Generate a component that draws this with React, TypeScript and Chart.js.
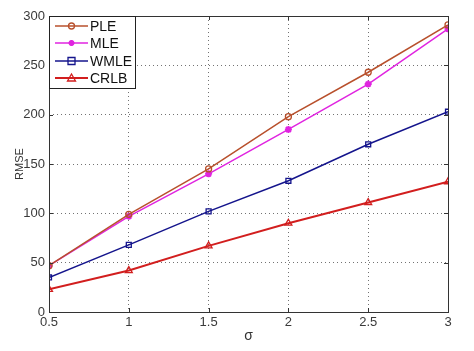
import React, { useEffect, useRef } from 'react';
import { Chart, registerables } from 'chart.js';
Chart.register(...registerables);

const sigma = [0.5, 1, 1.5, 2, 2.5, 3];
const ple = [47, 99, 145, 198, 243, 291];
const mle = [47, 97, 140, 185, 231, 287];
const wmle = [35, 68, 102, 133, 170, 203];
const crlb = [23, 42, 67, 90, 111, 132];
const seriesNames = ['PLE', 'MLE', 'WMLE', 'CRLB'];
const seriesColors = ['#b8502c', '#e024e0', '#14148c', '#d21e1e'];
const seriesStyles = ['circle', 'star', 'rect', 'triangle'];
const xTicks = [0.5, 1, 1.5, 2, 2.5, 3];
const yTicks = [0, 50, 100, 150, 200, 250, 300];

const FONT = '"Liberation Sans", Arial, sans-serif';

function drawMarker(ctx: CanvasRenderingContext2D, style: string, x: number, y: number, color: string) {
  ctx.save();
  ctx.strokeStyle = color;
  ctx.fillStyle = color;
  ctx.lineWidth = 1.3;
  ctx.beginPath();
  if (style === 'circle') {
    ctx.arc(x, y, 3, 0, Math.PI * 2);
    ctx.stroke();
  } else if (style === 'rect') {
    ctx.rect(x - 3.5, y - 3.5, 7, 7);
    ctx.stroke();
  } else if (style === 'triangle') {
    ctx.moveTo(x, y - 4);
    ctx.lineTo(x + 4, y + 3);
    ctx.lineTo(x - 4, y + 3);
    ctx.closePath();
    ctx.stroke();
  } else {
    ctx.lineWidth = 2;
    for (let k = 0; k < 4; k++) {
      const a = (k * Math.PI) / 4;
      ctx.moveTo(x - 3 * Math.cos(a), y - 3 * Math.sin(a));
      ctx.lineTo(x + 3 * Math.cos(a), y + 3 * Math.sin(a));
    }
    ctx.stroke();
  }
  ctx.restore();
}

const framePlugin = {
  id: 'frame',
  afterDraw(chart: any) {
    const { ctx, chartArea: a, scales } = chart;
    ctx.save();
    ctx.strokeStyle = '#333';
    ctx.lineWidth = 1;
    ctx.beginPath();
    xTicks.forEach((v) => {
      const px = Math.round(scales.x.getPixelForValue(v)) + 0.5;
      ctx.moveTo(px, a.bottom);
      ctx.lineTo(px, a.bottom - 4);
      ctx.moveTo(px, a.top);
      ctx.lineTo(px, a.top + 4);
    });
    yTicks.forEach((v) => {
      const py = Math.round(scales.y.getPixelForValue(v)) + 0.5;
      ctx.moveTo(a.left, py);
      ctx.lineTo(a.left + 4, py);
      ctx.moveTo(a.right, py);
      ctx.lineTo(a.right - 4, py);
    });
    ctx.stroke();
    ctx.strokeStyle = '#333';
    ctx.strokeRect(Math.round(a.left) + 0.5, Math.round(a.top) + 0.5, Math.round(a.right - a.left), Math.round(a.bottom - a.top));

    const lx = Math.round(a.left) + 0.5;
    const ly = Math.round(a.top) + 0.5;
    const lw = 86;
    const lh = 72;
    ctx.fillStyle = '#fff';
    ctx.fillRect(lx, ly, lw, lh);
    ctx.strokeStyle = '#222';
    ctx.strokeRect(lx, ly, lw, lh);
    const rows = [26, 43, 61, 78];
    ctx.font = `14px ${FONT}`;
    ctx.textBaseline = 'middle';
    ctx.textAlign = 'left';
    seriesNames.forEach((name, i) => {
      const y = rows[i];
      ctx.strokeStyle = seriesColors[i];
      ctx.lineWidth = i === 3 ? 2 : 1.5;
      ctx.beginPath();
      ctx.moveTo(55, y);
      ctx.lineTo(88, y);
      ctx.stroke();
      drawMarker(ctx, seriesStyles[i], 71.5, y, seriesColors[i]);
      ctx.fillStyle = '#111';
      ctx.fillText(name, 90, y + 1);
    });
    ctx.restore();
  },
};

export default function App() {
  const ref = useRef<HTMLCanvasElement>(null);
  useEffect(() => {
    document.body.style.margin = '0';
    const seriesData = [ple, mle, wmle, crlb];
    const chart = new Chart(ref.current as HTMLCanvasElement, {
      type: 'line',
      data: {
        datasets: seriesNames.map((name, i) => ({
          label: name,
          data: sigma.map((x, j) => ({ x, y: seriesData[i][j] })),
          borderColor: seriesColors[i],
          backgroundColor: 'rgba(0,0,0,0)',
          borderWidth: i === 3 ? 2 : 1.5,
          pointStyle: seriesStyles[i] as any,
          pointRadius: [3, 3.5, 3.5, 4][i],
          pointBorderWidth: i === 1 ? 2 : 1.3,
          pointBorderColor: seriesColors[i],
          pointBackgroundColor: 'rgba(0,0,0,0)',
          tension: 0,
        })),
      },
      options: {
        responsive: false,
        animation: false,
        layout: { padding: { top: 16, right: 26, left: 0, bottom: 0 } },
        plugins: { legend: { display: false }, tooltip: { enabled: false } },
        scales: {
          x: {
            type: 'linear',
            min: 0.5,
            max: 3,
            afterFit: (s: any) => { s.height = 39; },
            afterBuildTicks: (s: any) => { s.ticks = xTicks.map((v) => ({ value: v })); },
            ticks: {
              padding: 3,
              color: '#3a3a3a',
              font: { family: FONT, size: 13 },
              callback: (v: any) => String(v),
            },
            grid: { drawTicks: false, color: 'rgba(0,0,0,0.55)', lineWidth: 1 },
            border: { display: false, dash: [1, 3] },
            title: { display: true, text: 'σ', color: '#333', font: { family: FONT, size: 14 }, padding: { top: 0, bottom: 6 } },
          },
          y: {
            type: 'linear',
            min: 0,
            max: 300,
            afterFit: (s: any) => { s.width = 49; },
            afterBuildTicks: (s: any) => { s.ticks = yTicks.map((v) => ({ value: v })); },
            ticks: {
              padding: 4,
              color: '#3a3a3a',
              font: { family: FONT, size: 13 },
            },
            grid: { drawTicks: false, color: 'rgba(0,0,0,0.55)', lineWidth: 1 },
            border: { display: false, dash: [1, 3] },
            title: { display: true, text: 'RMSE', color: '#333', font: { family: FONT, size: 11 }, padding: { top: 13, bottom: 0 } },
          },
        },
      },
      plugins: [framePlugin],
    });
    return () => chart.destroy();
  }, []);
  return (
    <div style={{ width: 474, height: 351, background: '#fff' }}>
      <canvas ref={ref} width={474} height={351} style={{ display: 'block' }} />
    </div>
  );
}
